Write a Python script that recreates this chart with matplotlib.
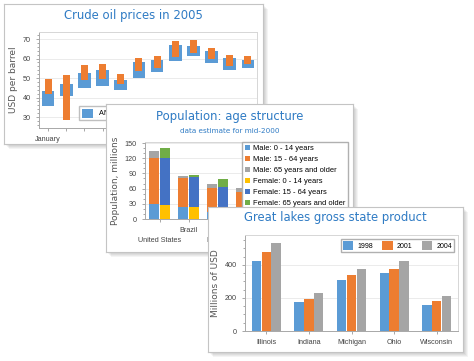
import numpy as np
import matplotlib
matplotlib.use("Agg")
import matplotlib.pyplot as plt
from matplotlib.patches import Rectangle
from matplotlib.ticker import MultipleLocator

# crude oil, 2005 (range bars)
months = ["January", "February", "March", "April", "May", "June", "July",
          "August", "September", "October", "November", "December"]
ans_low = [35.8, 40.6, 44.9, 46.1, 43.7, 50.0, 52.9, 58.5, 61.1, 57.7, 54.3, 55.1]
ans_high = [43.2, 46.9, 52.6, 54.3, 49.1, 58.0, 59.1, 66.8, 66.2, 63.7, 60.3, 59.1]
wti_low = [41.8, 28.3, 49.1, 49.5, 46.8, 53.6, 55.1, 60.8, 62.8, 59.7, 56.0, 57.4]
wti_high = [49.7, 51.7, 56.7, 57.4, 52.2, 60.3, 61.1, 69.1, 69.3, 65.4, 62.0, 61.5]

# population, mid-2000 (millions)
countries = ["United States", "Brazil", "Russia", "Japan", "Mexico", "Germany", "United Kingdom"]
male_0_14 = [30, 24, 13, 10, 17, 7, 6]
male_15_64 = [90, 57, 49, 43, 28, 28, 19]
male_65 = [15, 4, 7, 9, 2, 5.5, 4]
female_0_14 = [28, 24, 12.5, 9.5, 16, 6.5, 5.5]
female_15_64 = [92, 58, 51.5, 43, 30, 27, 19]
female_65 = [21, 5, 14, 13, 2.5, 8.5, 5.5]

# great lakes gross state product
states = ["Illinois", "Indiana", "Michigan", "Ohio", "Wisconsin"]
gsp_1998 = [424, 178, 309, 349, 158]
gsp_2001 = [477, 196, 339, 374, 184]
gsp_2004 = [531, 228, 376, 420, 212]

BLUE = "#5b9bd5"
ORANGE = "#ed7d31"
GRAY = "#a5a5a5"
YELLOW = "#ffc000"
DBLUE = "#4472c4"
GREEN = "#70ad47"
TITLE = "#2f7bc4"
TXT = "#444444"

W, H = 474, 361
fig = plt.figure(figsize=(W / 100, H / 100), dpi=100)
fig.patch.set_facecolor("white")

SMALL = {"family": "Liberation Sans", "size": 5.2}


def fbox(x0, y0, x1, y1):
    return [x0 / W, 1 - y1 / H, (x1 - x0) / W, (y1 - y0) / H]


def card(x0, y0, x1, y1, z):
    for k in range(1, 6):
        fig.patches.append(Rectangle(((x0 + k) / W, 1 - (y1 + k) / H),
                                     (x1 - x0) / W, (y1 - y0) / H,
                                     transform=fig.transFigure, facecolor="black",
                                     edgecolor="none", alpha=0.045, zorder=z - 0.5))
    ax = fig.add_axes(fbox(x0, y0, x1, y1), zorder=z)
    ax.set_xticks([])
    ax.set_yticks([])
    ax.set_xlim(0, 1)
    ax.set_ylim(0, 1)
    for s in ax.spines.values():
        s.set_color("#c4c4c4")
        s.set_linewidth(0.8)
    return ax


def style(ax):
    for s in ax.spines.values():
        s.set_color("#d6d6d6")
        s.set_linewidth(0.7)
    ax.spines["left"].set_color("#a8a8a8")
    ax.spines["bottom"].set_color("#a8a8a8")
    ax.tick_params(colors="#999999", labelcolor=TXT, labelsize=SMALL["size"],
                   length=2.5, width=0.6, which="both")
    ax.tick_params(which="minor", length=1.5)
    for lb in ax.get_xticklabels() + ax.get_yticklabels():
        lb.set_family(SMALL["family"])
    ax.grid(axis="y", color="#e8e8e8", linewidth=0.6)
    ax.set_axisbelow(True)


# ---- panel 1 ----
c1 = card(4, 4, 263, 144, 2)
c1.text(0.5, 0.92, "Crude oil prices in 2005", ha="center", va="center",
        color=TITLE, fontsize=8.4, transform=c1.transAxes)
ax1 = fig.add_axes(fbox(39, 32, 257, 128), zorder=3)
x = np.arange(len(months))
ax1.bar(x, np.array(ans_high) - np.array(ans_low), bottom=ans_low, width=0.7,
        color=BLUE, label="ANS West Coast")
ax1.bar(x, np.array(wti_high) - np.array(wti_low), bottom=wti_low, width=0.38,
        color=ORANGE, label="West Texas Intermediate")
ax1.set_xlim(-0.5, 11.5)
ax1.set_ylim(24.4, 73.6)
ax1.set_yticks([30, 40, 50, 60, 70])
ax1.yaxis.set_minor_locator(MultipleLocator(2))
ax1.set_xticks(x)
ax1.set_xticklabels([m if i % 6 == 0 else "" for i, m in enumerate(months)])
style(ax1)
ax1.set_ylabel("USD per barrel", fontsize=6.5, color="#555555", labelpad=3)
ax1.legend(loc="lower left", bbox_to_anchor=(75 / W, 1 - 124 / H), bbox_transform=fig.transFigure,
           ncol=2, prop=SMALL, frameon=True, fancybox=False, edgecolor="#b0b0b0",
           handlelength=1.6, handleheight=1.5, borderpad=0.4)

# ---- panel 2 ----
c2 = card(106, 104, 353, 252, 5)
c2.text(0.5, 0.913, "Population: age structure", ha="center", va="center",
        color=TITLE, fontsize=8.4, transform=c2.transAxes)
c2.text(0.5, 0.82, "data estimate for mid-2000", ha="center", va="center",
        color=TITLE, fontsize=5.2, transform=c2.transAxes)
ax2 = fig.add_axes(fbox(145, 142, 348, 219), zorder=6)
xc = np.arange(len(countries))
bw = 0.35
m1 = np.array(male_0_14)
m2 = np.array(male_15_64)
f1 = np.array(female_0_14)
f2 = np.array(female_15_64)
ax2.bar(xc - 0.18, m1, bw, color=BLUE, label="Male: 0 - 14 years")
ax2.bar(xc - 0.18, m2, bw, bottom=m1, color=ORANGE, label="Male: 15 - 64 years")
ax2.bar(xc - 0.18, male_65, bw, bottom=m1 + m2, color=GRAY, label="Male: 65 years and older")
ax2.bar(xc + 0.18, f1, bw, color=YELLOW, label="Female: 0 - 14 years")
ax2.bar(xc + 0.18, f2, bw, bottom=f1, color=DBLUE, label="Female: 15 - 64 years")
ax2.bar(xc + 0.18, female_65, bw, bottom=f1 + f2, color=GREEN, label="Female: 65 years and older")
ax2.set_xlim(-0.5, len(countries) - 0.5)
ax2.set_ylim(0, 152)
ax2.set_yticks([0, 30, 60, 90, 120, 150])
ax2.yaxis.set_minor_locator(MultipleLocator(10))
ax2.set_xticks(xc)
ax2.set_xticklabels([("\n" + c) if i % 2 == 0 else c for i, c in enumerate(countries)],
                    linespacing=1.6)
style(ax2)
ax2.set_ylabel("Population, millions", fontsize=6.5, color="#555555", labelpad=3)
ax2.legend(loc="upper right", bbox_to_anchor=(1, 1), borderaxespad=0,
           prop={"family": "Liberation Sans", "size": 5.4},
           frameon=True, fancybox=False, edgecolor="#b0b0b0", framealpha=1,
           handlelength=0.7, handleheight=0.7, handletextpad=0.4, labelspacing=0.5,
           borderpad=0.35)

# ---- panel 3 ----
c3 = card(208, 207, 463, 352, 8)
c3.text(0.5, 0.925, "Great lakes gross state product", ha="center", va="center",
        color=TITLE, fontsize=8.4, transform=c3.transAxes)
ax3 = fig.add_axes(fbox(245, 235, 458, 331), zorder=9)
xs = np.arange(len(states))
ax3.bar(xs - 0.23, gsp_1998, 0.22, color=BLUE, label="1998")
ax3.bar(xs, gsp_2001, 0.22, color=ORANGE, label="2001")
ax3.bar(xs + 0.23, gsp_2004, 0.22, color=GRAY, label="2004")
ax3.set_xlim(-0.5, len(states) - 0.5)
ax3.set_ylim(0, 580)
ax3.set_yticks([0, 200, 400])
ax3.yaxis.set_minor_locator(MultipleLocator(50))
ax3.set_xticks(xs)
ax3.set_xticklabels(states)
style(ax3)
ax3.set_ylabel("Millions of USD", fontsize=6.5, color="#555555", labelpad=3)
ax3.legend(loc="upper right", bbox_to_anchor=(1, 1), borderaxespad=0.6,
           prop={"family": "Liberation Sans", "size": 5.0}, ncol=3,
           frameon=True, fancybox=False, edgecolor="#b0b0b0", framealpha=1,
           handlelength=1.5, handleheight=1.5, handletextpad=0.6, columnspacing=1.3,
           borderpad=0.3)

fig.savefig("out.png", dpi=100)
